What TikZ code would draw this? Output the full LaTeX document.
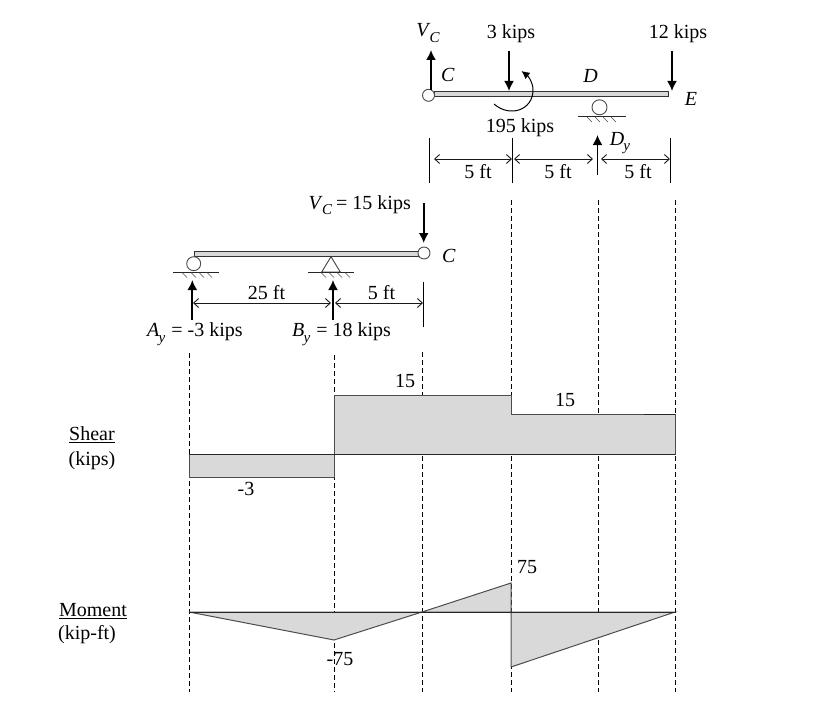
\documentclass[tikz,border=0pt]{standalone}
\usepackage{fontspec}
\setmainfont{Liberation Serif}
\usetikzlibrary{arrows.meta,calc}
\newcommand{\VarSub}[2]{\textit{#1}\kern-0.04em\raisebox{-0.28em}{\fontsize{15}{15}\selectfont\textit{#2}}}
\tikzset{
  x=1pt,y=-1pt,
  lab/.style={inner sep=0pt,font=\fontsize{20}{24}\selectfont,text=black},
  force/.style={line width=1.8pt,-{Latex[length=10pt,width=10pt]}},
  dim/.style={line width=0.9pt,black!90,{Straight Barb[length=5pt,width=9pt]}-{Straight Barb[length=5pt,width=9pt]}},
  tick/.style={line width=1pt},
  guide/.style={line width=0.9pt,dash pattern=on 5pt off 3pt},
  beam/.style={draw=black!80,fill=black!15,line width=1pt},
  pin/.style={circle,draw=black!70,fill=white,line width=0.9pt,inner sep=0pt,minimum size=#1},
  gnd/.style={line width=1pt,black!85},
  hatch/.style={line width=0.6pt,black!70},
  area/.style={fill=black!15,draw=black!70,line width=1pt},
  axisline/.style={line width=0.9pt,black!85},
}
\begin{document}
\begin{tikzpicture}
\useasboundingbox (0,0) rectangle (825,725);
% guide lines
\coordinate (g1t) at (189,353); \coordinate (g1b) at (189,692);
\coordinate (g2t) at (334,355); \coordinate (g2b) at (334,692);
\coordinate (g3t) at (422,352); \coordinate (g3b) at (422,692);
\coordinate (g4t) at (511,200); \coordinate (g4b) at (511,692);
\coordinate (g5t) at (598.5,200); \coordinate (g5b) at (598.5,692);
\coordinate (g6t) at (675,200); \coordinate (g6b) at (675,692);
\foreach \n in {1,...,6}{\draw[guide] (g\n t) -- (g\n b);}
% shear diagram
\draw[area] (334,454) -- (334,395) -- (511,395) -- (511,414) -- (675,414) -- (675,454) -- cycle;
\draw[area] (189,454) rectangle (334,477);
\draw[axisline] (189,454) -- (675,454);
\draw[line width=1pt,black!85] (644,414) -- (675,414);
% moment diagram
\draw[area] (189,612) -- (334,640) -- (422,612) -- cycle;
\draw[area] (422,612) -- (511,583) -- (511,612) -- cycle;
\draw[area] (511,612) -- (511,667) -- (675,612) -- cycle;
\draw[axisline] (189,612) -- (675,612);
% top free-body
\draw[beam] (434,92) rectangle (668,97);
\node[pin=12pt] (C1) at (428.5,95.3) {};
\node[pin=15pt] (D) at (599.5,107.3) {};
\draw[gnd] (578,116.7) -- (626,116.7);
\foreach \x in {587,595,603,611}{\draw[hatch] (\x,117) -- (\x+5,122);}
\coordinate (vc1) at (431,90); \coordinate (vc2) at (431,50);
\draw[force] (vc1) -- (vc2);
\coordinate (f3a) at (509,51); \coordinate (f3b) at (509,91);
\draw[force] (f3a) -- (f3b);
\coordinate (f12a) at (672,51); \coordinate (f12b) at (672,91);
\draw[force] (f12a) -- (f12b);
\coordinate (ma) at (494,104); \coordinate (mb) at (521.5,71);
\draw[line width=1pt,-{Latex[length=8pt,width=8pt]}] (ma) .. controls (510,118) and (533,110) .. (533,90) .. controls (533,82) and (528,76) .. (mb);
\coordinate (dya) at (597.5,175); \coordinate (dyb) at (597.5,135);
\draw[force] (dya) -- (dyb);
\coordinate (t1a) at (429,138); \coordinate (t1b) at (429,183);
\coordinate (t2a) at (512.5,138); \coordinate (t2b) at (512.5,183);
\coordinate (t3a) at (670,138); \coordinate (t3b) at (670,183);
\draw[tick] (t1a) -- (t1b); \draw[tick] (t2a) -- (t2b); \draw[tick] (t3a) -- (t3b);
\draw[dim] (434,159) -- (512,159);
\draw[dim] (514,159) -- (593,159);
\draw[dim] (601,159) -- (670,159);
\node[lab] (tVC) at (428,33) {\VarSub{V}{C}};
\node[lab] (t3k) at (511,34) {3 kips};
\node[lab] (t12k) at (678,34) {12 kips};
\node[lab] (tC1) at (448,75) {\textit{C}};
\node[lab] (tD) at (590.5,76) {\textit{D}};
\node[lab] (tE) at (691,99) {\textit{E}};
\node[lab] (t195) at (520,128) {195 kips};
\node[lab] (tDy) at (620,143) {\VarSub{D}{y}};
\node[lab] (d1) at (478,172) {5 ft};
\node[lab] (d2) at (558,172) {5 ft};
\node[lab] (d3) at (638,172) {5 ft};
% lower free-body
\draw[beam] (194,251) rectangle (420,256);
\node[pin=12pt] (C2) at (424,253) {};
\node[pin=14pt] (A) at (193.7,263.7) {};
\draw[gnd] (173,272) -- (219,272);
\foreach \x in {182,191,199,207}{\draw[hatch] (\x,272.5) -- (\x+5,277.5);}
\node[inner sep=0pt,minimum size=0pt] (Bapex) at (331,256.7) {};
\draw[line width=0.9pt,black!75] (Bapex.center) -- (321.7,272) -- (340.3,272) -- cycle;
\draw[gnd] (307.7,272) -- (354,272);
\foreach \x in {321,329,337,345}{\draw[hatch] (\x,272.5) -- (\x+5,277.5);}
\coordinate (aya) at (192.3,320); \coordinate (ayb) at (192.3,280);
\coordinate (bya) at (333,320); \coordinate (byb) at (333,280);
\draw[force] (aya) -- (ayb); \draw[force] (bya) -- (byb);
\coordinate (v2a) at (423.7,203); \coordinate (v2b) at (423.7,243);
\draw[force] (v2a) -- (v2b);
\coordinate (t4a) at (423,282); \coordinate (t4b) at (423,327);
\draw[tick] (t4a) -- (t4b);
\draw[dim] (193,303) -- (331,303);
\draw[dim] (335,303) -- (423,303);
\node[lab,anchor=east] (tVC15) at (411,205) {\VarSub{V}{C}\kern0.2em= 15 kips};
\node[lab] (tC2) at (449,256) {\textit{C}};
\node[lab] (d25) at (266.5,293) {25 ft};
\node[lab] (d5) at (381.5,293) {5 ft};
\node[lab,anchor=west] (tAy) at (147,334) {\VarSub{A}{y}\kern0.3em= -3 kips};
\node[lab,anchor=west] (tBy) at (292,334) {\VarSub{B}{y}\kern0.3em= 18 kips};
% diagram labels
\node[lab] (s1) at (405,381) {15};
\node[lab] (s2) at (565,400) {15};
\node[lab] (s3) at (246,489) {-3};
\node[lab] (sh) at (92,435) {\underline{Shear}};
\node[lab] (shu) at (92,461) {(kips)};
\node[lab] (mo) at (93,611) {\underline{Moment}};
\node[lab] (mou) at (87,635) {(kip-ft)};
\node[lab] (m1) at (527,567) {75};
\node[lab] (m2) at (340,659) {-75};
\end{tikzpicture}
\end{document}
